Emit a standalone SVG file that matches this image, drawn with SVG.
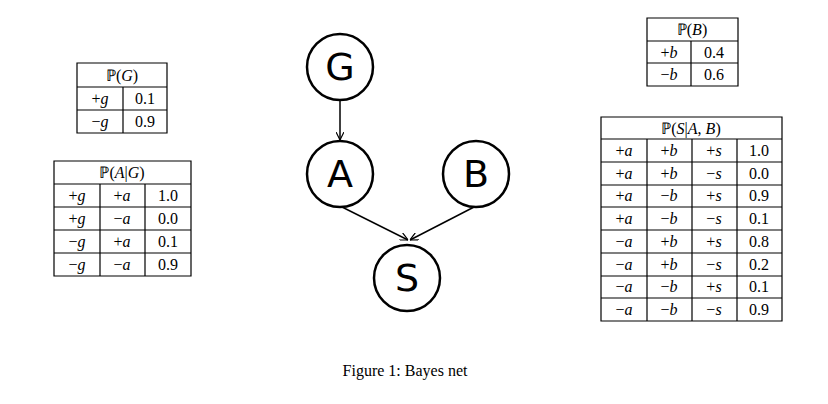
<svg xmlns="http://www.w3.org/2000/svg" width="828" height="404" viewBox="0 0 828 404">
<defs>
<style>
.c{fill:#fff;stroke:#000;stroke-width:2.5}
.n{font-family:"DejaVu Sans","Noto Sans",sans-serif;font-size:38px;text-anchor:middle}
.t{font-family:"Liberation Serif",serif;font-size:16px;text-anchor:middle}
.g{fill:none;stroke:#000;stroke-width:1.2}
.e{stroke:#000;stroke-width:1.5;fill:none;marker-end:url(#ah)}
</style>
<marker id="ah" viewBox="0 0 10 10" refX="10" refY="5" markerWidth="8" markerHeight="8" orient="auto" markerUnits="userSpaceOnUse"><path d="M0,0 L10,5 L0,10" fill="none" stroke="#000" stroke-width="1.5"/></marker>
</defs>
<rect width="828" height="404" fill="#fff"/>
<g id="edges">
<line class="e" x1="340" y1="100" x2="340" y2="140"/>
<line class="e" x1="340" y1="206" x2="408" y2="240"/>
<line class="e" x1="476" y1="206" x2="410" y2="240"/>
</g>
<g id="G"><circle class="c" cx="340" cy="67" r="33"/><text class="n" x="340" y="80">G</text></g>
<g id="A"><circle class="c" cx="340" cy="174" r="33"/><text class="n" x="340" y="187">A</text></g>
<g id="B"><circle class="c" cx="476" cy="174" r="33"/><text class="n" x="476" y="187">B</text></g>
<g id="S"><circle class="c" cx="407" cy="278" r="33"/><text class="n" x="407" y="291">S</text></g>

<g id="tableG">
<path class="g" d="M77,63H167V133H77Z M77,87H167 M77,110H167 M123,87V133"/>
<text class="t" x="122" y="81">ℙ(<tspan font-style="italic">G</tspan>)</text>
<text class="t" x="100" y="104">+<tspan font-style="italic">g</tspan></text><text class="t" x="145" y="104">0.1</text>
<text class="t" x="100" y="127">−<tspan font-style="italic">g</tspan></text><text class="t" x="145" y="127">0.9</text>
</g>
<g id="tableAG">
<path class="g" d="M54,161H191V276H54Z M54,184H191 M54,207H191 M54,230H191 M54,253H191 M100,184V276 M145,184V276"/>
<text class="t" x="122" y="178">ℙ(<tspan font-style="italic">A</tspan>|<tspan font-style="italic">G</tspan>)</text>
<text class="t" x="77" y="201">+<tspan font-style="italic">g</tspan></text><text class="t" x="122" y="201">+<tspan font-style="italic">a</tspan></text><text class="t" x="168" y="201">1.0</text>
<text class="t" x="77" y="224">+<tspan font-style="italic">g</tspan></text><text class="t" x="122" y="224">−<tspan font-style="italic">a</tspan></text><text class="t" x="168" y="224">0.0</text>
<text class="t" x="77" y="247">−<tspan font-style="italic">g</tspan></text><text class="t" x="122" y="247">+<tspan font-style="italic">a</tspan></text><text class="t" x="168" y="247">0.1</text>
<text class="t" x="77" y="270">−<tspan font-style="italic">g</tspan></text><text class="t" x="122" y="270">−<tspan font-style="italic">a</tspan></text><text class="t" x="168" y="270">0.9</text>
</g>
<g id="tableB">
<path class="g" d="M647,18H738V86H647Z M647,41H738 M647,63H738 M691,41V86"/>
<text class="t" x="692" y="35">ℙ(<tspan font-style="italic">B</tspan>)</text>
<text class="t" x="669" y="58">+<tspan font-style="italic">b</tspan></text><text class="t" x="714" y="58">0.4</text>
<text class="t" x="669" y="80">−<tspan font-style="italic">b</tspan></text><text class="t" x="714" y="80">0.6</text>
</g>
<g id="tableSAB">
<path class="g" d="M601,117H782V321H601Z M601,139H782 M601,162H782 M601,185H782 M601,207H782 M601,230H782 M601,253H782 M601,276H782 M601,298H782 M647,139V321 M692,139V321 M737,139V321"/>
<text class="t" x="691" y="134">ℙ(<tspan font-style="italic">S</tspan>|<tspan font-style="italic">A</tspan>, <tspan font-style="italic">B</tspan>)</text>
<g>
<text class="t" x="624" y="156">+<tspan font-style="italic">a</tspan></text><text class="t" x="669" y="156">+<tspan font-style="italic">b</tspan></text><text class="t" x="714" y="156">+<tspan font-style="italic">s</tspan></text><text class="t" x="759" y="156">1.0</text>
<text class="t" x="624" y="179">+<tspan font-style="italic">a</tspan></text><text class="t" x="669" y="179">+<tspan font-style="italic">b</tspan></text><text class="t" x="714" y="179">−<tspan font-style="italic">s</tspan></text><text class="t" x="759" y="179">0.0</text>
<text class="t" x="624" y="201">+<tspan font-style="italic">a</tspan></text><text class="t" x="669" y="201">−<tspan font-style="italic">b</tspan></text><text class="t" x="714" y="201">+<tspan font-style="italic">s</tspan></text><text class="t" x="759" y="201">0.9</text>
<text class="t" x="624" y="224">+<tspan font-style="italic">a</tspan></text><text class="t" x="669" y="224">−<tspan font-style="italic">b</tspan></text><text class="t" x="714" y="224">−<tspan font-style="italic">s</tspan></text><text class="t" x="759" y="224">0.1</text>
<text class="t" x="624" y="247">−<tspan font-style="italic">a</tspan></text><text class="t" x="669" y="247">+<tspan font-style="italic">b</tspan></text><text class="t" x="714" y="247">+<tspan font-style="italic">s</tspan></text><text class="t" x="759" y="247">0.8</text>
<text class="t" x="624" y="270">−<tspan font-style="italic">a</tspan></text><text class="t" x="669" y="270">+<tspan font-style="italic">b</tspan></text><text class="t" x="714" y="270">−<tspan font-style="italic">s</tspan></text><text class="t" x="759" y="270">0.2</text>
<text class="t" x="624" y="292">−<tspan font-style="italic">a</tspan></text><text class="t" x="669" y="292">−<tspan font-style="italic">b</tspan></text><text class="t" x="714" y="292">+<tspan font-style="italic">s</tspan></text><text class="t" x="759" y="292">0.1</text>
<text class="t" x="624" y="315">−<tspan font-style="italic">a</tspan></text><text class="t" x="669" y="315">−<tspan font-style="italic">b</tspan></text><text class="t" x="714" y="315">−<tspan font-style="italic">s</tspan></text><text class="t" x="759" y="315">0.9</text>
</g>
</g>
<text class="t" x="405" y="376" font-size="19">Figure 1:  Bayes net</text>
</svg>
